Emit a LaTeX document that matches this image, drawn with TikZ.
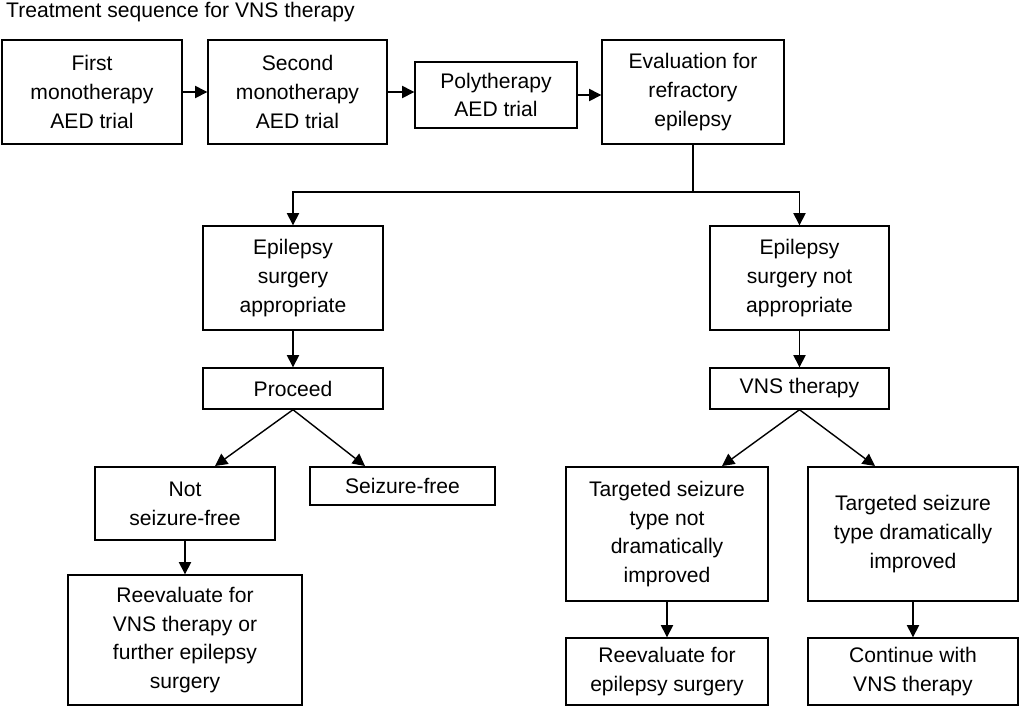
\documentclass[tikz,border=0pt]{standalone}
\usepackage{fontspec}
\setmainfont{Liberation Sans}
\usetikzlibrary{arrows.meta}
\begin{document}
\begin{tikzpicture}[x=0.02cm,y=-0.02cm,
  box/.style={draw,line width=0.8pt,align=center,inner sep=0pt,
    font=\fontsize{12}{16.4}\selectfont},
  arr/.style={line width=0.8pt,-{Triangle[width=7pt,length=7pt]}},
  ln/.style={line width=0.8pt}]
\useasboundingbox (0,0) rectangle (1020,711);
\node[anchor=west,font=\fontsize{12}{14}\selectfont] (title) at (0,12) {Treatment sequence for VNS therapy};
% top row
\node[box,minimum width=180*0.02cm,minimum height=104*0.02cm] (first) at (92,92) {First\\monotherapy\\AED trial};
\node[box,minimum width=179*0.02cm,minimum height=104*0.02cm] (second) at (297.5,92) {Second\\monotherapy\\AED trial};
\node[box,minimum width=162*0.02cm,minimum height=66*0.02cm] (poly) at (496,95) {Polytherapy\\AED trial};
\node[box,minimum width=182*0.02cm,minimum height=104*0.02cm] (eval) at (693,92) {Evaluation for\\refractory\\epilepsy};
\draw[arr] (first.east) -- (first.east -| second.west);
\draw[arr] (second.east) -- (second.east -| poly.west);
\draw[arr] (poly.east) -- (poly.east -| eval.west);
% branches
\node[box,minimum width=180*0.02cm,minimum height=104*0.02cm] (surg) at (293,278) {Epilepsy\\surgery\\appropriate};
\node[box,minimum width=179*0.02cm,minimum height=104*0.02cm] (nosurg) at (799.5,278) {Epilepsy\\surgery not\\appropriate};
\coordinate (split) at (693,192);
\draw[ln] (eval.south) -- (split);
\draw[arr] (split) -| (surg.north);
\draw[arr] (split) -| (nosurg.north);
\node[box,minimum width=180*0.02cm,minimum height=41*0.02cm] (proceed) at (293,388.5) {Proceed};
\node[box,minimum width=179*0.02cm,minimum height=41*0.02cm] (vns) at (799.5,388.5) {VNS therapy};
\draw[arr] (surg.south) -- (proceed.north);
\draw[arr] (nosurg.south) -- (vns.north);
% left side
\node[box,minimum width=180*0.02cm,minimum height=73*0.02cm] (notfree) at (185,503.5) {Not\\seizure-free};
\node[box,minimum width=185*0.02cm,minimum height=38*0.02cm] (free) at (402.5,486) {Seizure-free};
\node[box,minimum width=234*0.02cm,minimum height=130*0.02cm] (reevalvns) at (185,640) {Reevaluate for\\VNS therapy or\\further epilepsy\\surgery};
\draw[arr] (proceed.south) -- (215,466);
\draw[arr] (proceed.south) -- (365,466);
\draw[arr] (notfree.south) -- (reevalvns.north);
% right side
\node[box,minimum width=202*0.02cm,minimum height=134*0.02cm] (notimp) at (667,534) {Targeted seizure\\type not\\dramatically\\improved};
\node[box,minimum width=210*0.02cm,minimum height=134*0.02cm] (imp) at (913,534) {Targeted seizure\\type dramatically\\improved};
\node[box,minimum width=202*0.02cm,minimum height=67*0.02cm] (reevalsurg) at (667,671.5) {Reevaluate for\\epilepsy surgery};
\node[box,minimum width=210*0.02cm,minimum height=67*0.02cm] (cont) at (913,671.5) {Continue with\\VNS therapy};
\draw[arr] (vns.south) -- (722,466);
\draw[arr] (vns.south) -- (875,466);
\draw[arr] (notimp.south) -- (reevalsurg.north);
\draw[arr] (imp.south) -- (cont.north);
\end{tikzpicture}
\end{document}
